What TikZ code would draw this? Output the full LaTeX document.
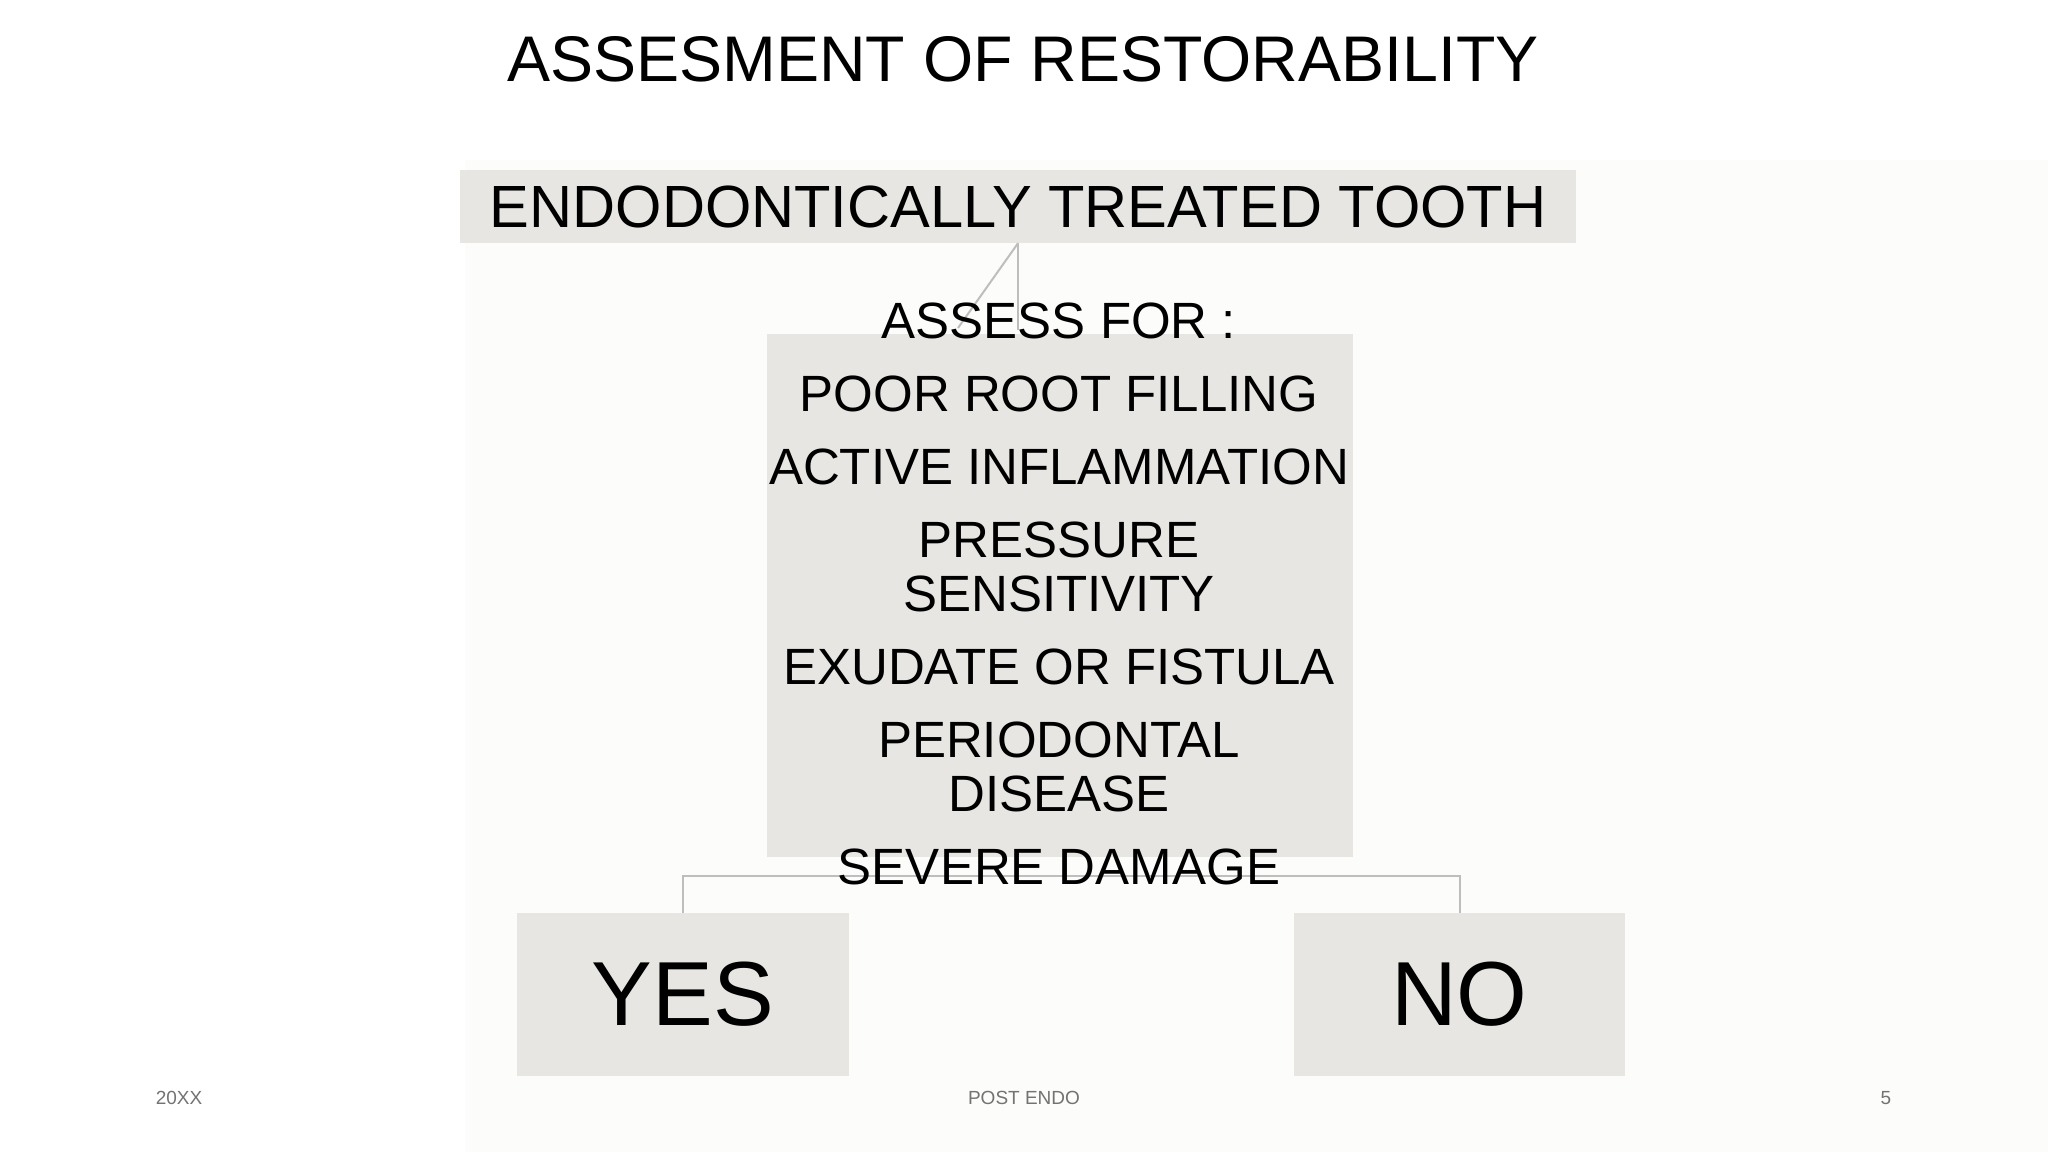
\documentclass[tikz,border=0pt]{standalone}
\usepackage{fontspec}
\setmainfont{Liberation Sans}
\usepackage{tikz}
\usetikzlibrary{positioning}

\definecolor{boxgray}{RGB}{231,230,226}
\definecolor{panelgray}{RGB}{252,252,251}
\definecolor{linkgray}{RGB}{190,190,190}

\begin{document}
\begin{tikzpicture}[x=1pt,y=1pt]
			\tikzstyle{Box}		= [rectangle, fill=boxgray, inner sep=0pt]
			\tikzstyle{Caption}	= [inner sep=0pt, align=center, text=black]
			\tikzstyle{Footer}	= [inner sep=0pt, text=black!55, font=\fontsize{19}{22}\selectfont]
			\tikzstyle{Link}	= [linkgray, line width=2pt]

			\useasboundingbox (0,0) rectangle (2048,1152);
			\fill[white] (0,0) rectangle (2048,1152);
			\fill[panelgray] (465,0) rectangle (2048,992);

			\node (title) at (1023,1093) [Caption, font=\fontsize{64.5}{70}\selectfont] {ASSESMENT OF RESTORABILITY};

			\node (tooth) at (1018,945.5) [Box, minimum width=1116pt, minimum height=73pt] {};
			\node (checks) at (1060,556.5) [Box, minimum width=586pt, minimum height=523pt] {};
			\node (yes) at (683,157.5) [Box, minimum width=332pt, minimum height=163pt] {};
			\node (no) at (1459.5,157.5) [Box, minimum width=331pt, minimum height=163pt] {};

			\coordinate (stem) at (1018,822);
			\coordinate (slant) at (958,824);
			\coordinate (fork) at ([yshift=-19pt]checks.south);

			\draw [Link] (tooth.south) -- (stem);
			\draw [Link] (tooth.south) -- (slant);
			\draw [Link] (fork) -| (yes.north);
			\draw [Link] (fork) -| (no.north);

			\node (toothtext) at (tooth.center) [Caption, font=\fontsize{59.6}{66}\selectfont] {ENDODONTICALLY TREATED TOOTH};
			\node (checklist) at (1059,558) [Caption, font=\fontsize{51}{54}\selectfont] {%
				ASSESS FOR :\\[19pt]
				POOR ROOT FILLING\\[19pt]
				ACTIVE INFLAMMATION\\[19pt]
				PRESSURE\\SENSITIVITY\\[19pt]
				EXUDATE OR FISTULA\\[19pt]
				PERIODONTAL\\DISEASE\\[19pt]
				SEVERE DAMAGE};
			\node (yestext) at (yes.center) [Caption, font=\fontsize{91}{100}\selectfont] {YES};
			\node (notext) at (no.center) [Caption, font=\fontsize{91}{100}\selectfont] {NO};

			\node (date) at (179,54) [Footer] {20XX};
			\node (topic) at (1024,54) [Footer] {POST ENDO};
			\node (page) at (1886,54) [Footer] {5};
		\end{tikzpicture}
\end{document}
